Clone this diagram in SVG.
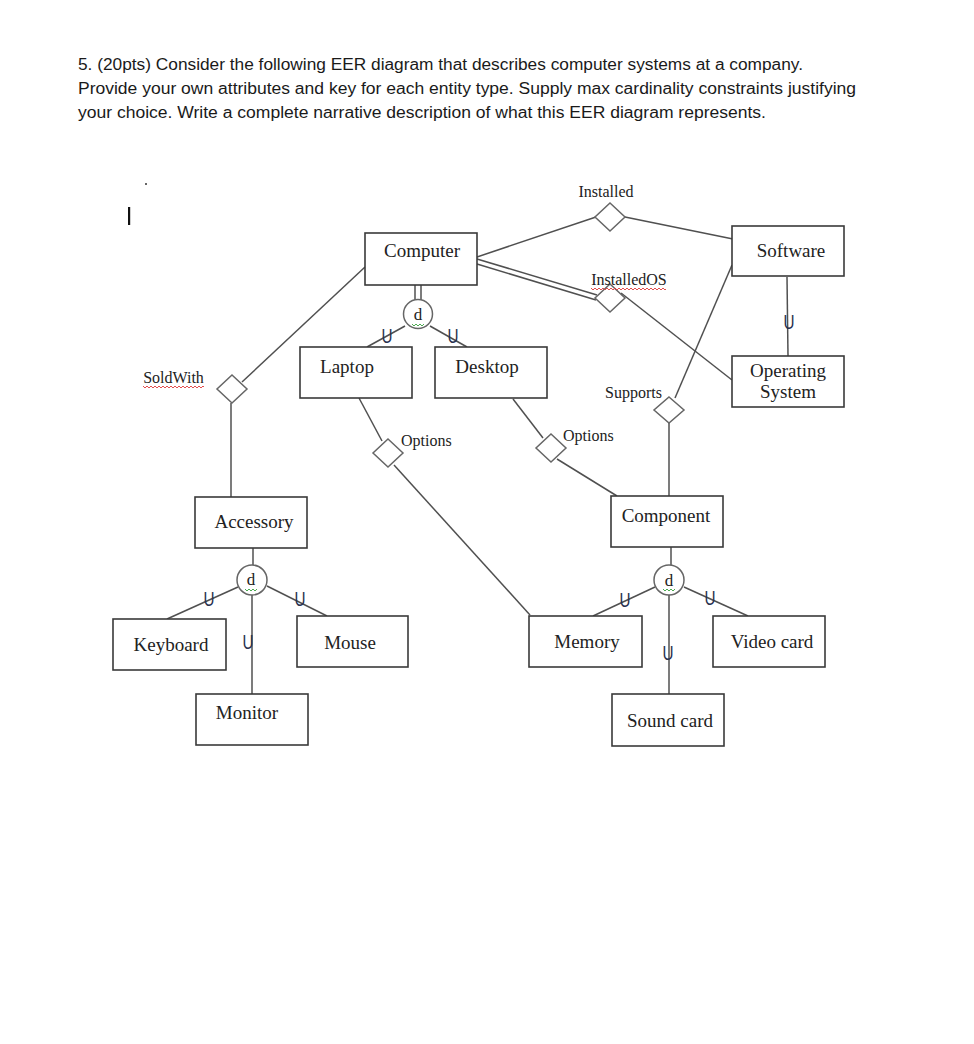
<svg xmlns="http://www.w3.org/2000/svg" width="974" height="1044" viewBox="0 0 974 1044">
<defs>
<style>
.box{fill:#fff;stroke:#3a3a3a;stroke-width:1.6}
.ln{stroke:#505050;stroke-width:1.5;fill:none}
.dia{fill:#fff;stroke:#666;stroke-width:1.5}
.circ{fill:#fff;stroke:#666;stroke-width:1.5}
.ent{font-family:"Liberation Serif","Times New Roman",serif;font-size:19px;fill:#222;text-anchor:middle}
.rel{font-family:"Liberation Serif","Times New Roman",serif;font-size:16px;fill:#222}
.d{font-family:"Liberation Serif","Times New Roman",serif;font-size:17px;fill:#222;text-anchor:middle}
.u{font-family:"Liberation Sans",Arial,sans-serif;font-size:20px;fill:#27304f;text-anchor:middle}
.hdr{font-family:"Liberation Sans",Arial,sans-serif;font-size:16px;fill:#1a1a1a}
.red{stroke:#e03a3a;stroke-width:0.9;fill:none}
.grn{stroke:#3aa040;stroke-width:0.9;fill:none}
</style>
</defs>
<rect width="974" height="1044" fill="#fff"/>

<g id="header">
<text class="hdr" x="78" y="70" textLength="725" lengthAdjust="spacingAndGlyphs">5. (20pts) Consider the following EER diagram that describes computer systems at a company.</text>
<text class="hdr" x="78" y="94" textLength="778" lengthAdjust="spacingAndGlyphs">Provide your own attributes and key for each entity type. Supply max cardinality constraints justifying</text>
<text class="hdr" x="78" y="118" textLength="688" lengthAdjust="spacingAndGlyphs">your choice. Write a complete narrative description of what this EER diagram represents.</text>
</g>

<g id="marks">
<circle cx="146" cy="184" r="1" fill="#333"/>
<rect x="128" y="207" width="2.2" height="18" fill="#111"/>
</g>

<g id="connectors">
<line class="ln" x1="477" y1="257" x2="596" y2="217"/>
<line class="ln" x1="625" y1="217" x2="733" y2="239"/>
<line class="ln" x1="477" y1="259" x2="597" y2="295"/>
<line class="ln" x1="477" y1="264" x2="596" y2="300"/>
<line class="ln" x1="621" y1="293" x2="732" y2="380"/>
<line class="ln" x1="787" y1="277" x2="788" y2="356"/>
<line class="ln" x1="675" y1="398" x2="732" y2="265"/>
<line class="ln" x1="669" y1="423" x2="669" y2="496"/>
<line class="ln" x1="365" y1="267" x2="242" y2="382"/>
<line class="ln" x1="231" y1="403" x2="231" y2="497"/>
<line class="ln" x1="415" y1="285" x2="415" y2="300"/>
<line class="ln" x1="421" y1="285" x2="421" y2="300"/>
<line class="ln" x1="405" y1="326" x2="367" y2="347"/>
<line class="ln" x1="430" y1="326" x2="467" y2="347"/>
<line class="ln" x1="359" y1="398" x2="382" y2="441"/>
<line class="ln" x1="394" y1="465" x2="530" y2="615"/>
<line class="ln" x1="513" y1="399" x2="543" y2="438"/>
<line class="ln" x1="557" y1="459" x2="617" y2="496"/>
<line class="ln" x1="253" y1="548" x2="253" y2="565"/>
<line class="ln" x1="238" y1="587" x2="167" y2="619"/>
<line class="ln" x1="267" y1="586" x2="327" y2="616"/>
<line class="ln" x1="252" y1="595" x2="252" y2="694"/>
<line class="ln" x1="671" y1="547" x2="671" y2="565"/>
<line class="ln" x1="655" y1="587" x2="593" y2="616"/>
<line class="ln" x1="684" y1="587" x2="748" y2="616"/>
<line class="ln" x1="669" y1="595" x2="669" y2="694"/>
</g>

<g id="computer"><rect class="box" x="365" y="233" width="112" height="52"/><text class="ent" x="422" y="257">Computer</text></g>
<g id="software"><rect class="box" x="732" y="226" width="112" height="50"/><text class="ent" x="791" y="257">Software</text></g>
<g id="operating-system"><rect class="box" x="732" y="356" width="112" height="51"/><text class="ent" x="788" y="377">Operating</text><text class="ent" x="788" y="398">System</text></g>
<g id="laptop"><rect class="box" x="300" y="347" width="112" height="51"/><text class="ent" x="347" y="373">Laptop</text></g>
<g id="desktop"><rect class="box" x="435" y="347" width="112" height="51"/><text class="ent" x="487" y="373">Desktop</text></g>
<g id="accessory"><rect class="box" x="195" y="497" width="112" height="51"/><text class="ent" x="254" y="528">Accessory</text></g>
<g id="component"><rect class="box" x="611" y="496" width="112" height="51"/><text class="ent" x="666" y="522">Component</text></g>
<g id="keyboard"><rect class="box" x="113" y="619" width="113" height="51"/><text class="ent" x="171" y="651">Keyboard</text></g>
<g id="mouse"><rect class="box" x="297" y="616" width="111" height="51"/><text class="ent" x="350" y="649">Mouse</text></g>
<g id="monitor"><rect class="box" x="196" y="694" width="112" height="51"/><text class="ent" x="247" y="719">Monitor</text></g>
<g id="memory"><rect class="box" x="529" y="616" width="113" height="51"/><text class="ent" x="587" y="648">Memory</text></g>
<g id="video-card"><rect class="box" x="713" y="616" width="112" height="51"/><text class="ent" x="772" y="648">Video card</text></g>
<g id="sound-card"><rect class="box" x="612" y="694" width="112" height="52"/><text class="ent" x="670" y="727">Sound card</text></g>

<g id="installed"><polygon class="dia" points="610,203 625,217 610,231 595,217"/><text class="rel" x="606" y="197" text-anchor="middle">Installed</text></g>
<g id="installedos"><polygon class="dia" points="610,284 625,298 610,312 595,298"/><text class="rel" x="629" y="285" text-anchor="middle">InstalledOS</text><polyline class="red" points="591,288 593,290 595,288 597,290 599,288 601,290 603,288 605,290 607,288 609,290 611,288 613,290 615,288 617,290 619,288 621,290 623,288 625,290 627,288 629,290 631,288 633,290 635,288 637,290 639,288 641,290 643,288 645,290 647,288 649,290 651,288 653,290 655,288 657,290 659,288 661,290 663,288 665,290 666,289"/></g>
<g id="soldwith"><polygon class="dia" points="232,375 247,389 232,403 217,389"/><text class="rel" x="173.5" y="383" text-anchor="middle">SoldWith</text><polyline class="red" points="143,386 145,388 147,386 149,388 151,386 153,388 155,386 157,388 159,386 161,388 163,386 165,388 167,386 169,388 171,386 173,388 175,386 177,388 179,386 181,388 183,386 185,388 187,386 189,388 191,386 193,388 195,386 197,388 199,386 201,388 203,386 204,387"/></g>
<g id="supports"><polygon class="dia" points="669,397 684,410 669,423 654,410"/><text class="rel" x="605" y="398">Supports</text></g>
<g id="options-laptop"><polygon class="dia" points="388,439 403,453 388,467 373,453"/><text class="rel" x="401" y="446">Options</text></g>
<g id="options-desktop"><polygon class="dia" points="551,434 566,448 551,462 536,448"/><text class="rel" x="563" y="441">Options</text></g>

<g id="disjoint-computer"><circle class="circ" cx="418" cy="314" r="14.5"/><text class="d" x="418" y="320">d</text><polyline class="grn" points="412,324 414,326 416,324 418,326 420,324 422,326 424,324"/></g>
<g id="disjoint-accessory"><circle class="circ" cx="252" cy="580" r="15"/><text class="d" x="251" y="585">d</text><polyline class="grn" points="245,589 247,591 249,589 251,591 253,589 255,591 257,589"/></g>
<g id="disjoint-component"><circle class="circ" cx="669" cy="580" r="15"/><text class="d" x="669" y="586">d</text><polyline class="grn" points="663,589 665,591 667,589 669,591 671,589 673,591 675,589"/></g>

<g id="subset-marks">
<text class="u" x="387" y="343" textLength="11" lengthAdjust="spacingAndGlyphs">U</text>
<text class="u" x="453" y="343" textLength="11" lengthAdjust="spacingAndGlyphs">U</text>
<text class="u" x="789" y="329" textLength="11" lengthAdjust="spacingAndGlyphs">U</text>
<text class="u" x="209" y="606" textLength="11" lengthAdjust="spacingAndGlyphs">U</text>
<text class="u" x="300" y="606" textLength="11" lengthAdjust="spacingAndGlyphs">U</text>
<text class="u" x="248" y="649" textLength="11" lengthAdjust="spacingAndGlyphs">U</text>
<text class="u" x="625" y="607" textLength="11" lengthAdjust="spacingAndGlyphs">U</text>
<text class="u" x="710" y="605" textLength="11" lengthAdjust="spacingAndGlyphs">U</text>
<text class="u" x="668" y="660" textLength="11" lengthAdjust="spacingAndGlyphs">U</text>
</g>
</svg>
